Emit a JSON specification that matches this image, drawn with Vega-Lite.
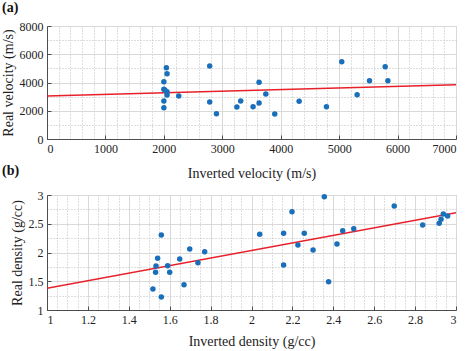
{
  "$schema": "https://vega.github.io/schema/vega-lite/v6.json",
  "padding": {"left": 0, "top": 0, "right": 2, "bottom": 0},
  "background": "white",
  "bounds": "flush",
  "spacing": 56,
  "config": {
    "view": {"stroke": "#c8c8c8", "strokeWidth": 1},
    "axis": {
      "labelFont": "Liberation Serif",
      "labelFontSize": 12,
      "labelColor": "#222222",
      "titleFont": "Liberation Serif",
      "titleFontSize": 14,
      "titleFontWeight": "normal",
      "titleColor": "#222222",
      "domainColor": "#4d4d4d",
      "tickColor": "#4d4d4d",
      "tickSize": -4,
      "labelPadding": 8,
      "gridColor": "#d9d9d9",
      "gridWidth": 1
    },
    "title": {"font": "Liberation Serif", "fontSize": 14, "fontWeight": "bold", "color": "#111111"}
  },
  "datasets": {
    "velocity": [
      {"inv": 2043, "real": 5050}, {"inv": 2055, "real": 4625}, {"inv": 2000, "real": 4060},
      {"inv": 2000, "real": 3520}, {"inv": 2020, "real": 3450}, {"inv": 2055, "real": 3350},
      {"inv": 2055, "real": 3115}, {"inv": 2000, "real": 2690}, {"inv": 2000, "real": 2215},
      {"inv": 2255, "real": 3045}, {"inv": 2785, "real": 5170}, {"inv": 2785, "real": 2620},
      {"inv": 2900, "real": 1795}, {"inv": 3250, "real": 2265}, {"inv": 3315, "real": 2690},
      {"inv": 3527, "real": 2290}, {"inv": 3630, "real": 4010}, {"inv": 3630, "real": 2550},
      {"inv": 3745, "real": 3185}, {"inv": 3898, "real": 1770}, {"inv": 4315, "real": 2665},
      {"inv": 4783, "real": 2290}, {"inv": 5045, "real": 5475}, {"inv": 5308, "real": 3140},
      {"inv": 5520, "real": 4130}, {"inv": 5788, "real": 5120}, {"inv": 5834, "real": 4130}
    ],
    "velocityFit": [{"inv": 0, "real": 3040}, {"inv": 7000, "real": 3840}],
    "density": [
      {"inv": 1.559, "real": 2.304}, {"inv": 1.541, "real": 1.899}, {"inv": 1.533, "real": 1.765},
      {"inv": 1.531, "real": 1.655}, {"inv": 1.59, "real": 1.771}, {"inv": 1.6, "real": 1.655},
      {"inv": 1.649, "real": 1.887}, {"inv": 1.698, "real": 2.061}, {"inv": 1.771, "real": 2.014},
      {"inv": 1.738, "real": 1.823}, {"inv": 1.518, "real": 1.365}, {"inv": 1.559, "real": 1.226},
      {"inv": 1.67, "real": 1.44}, {"inv": 2.04, "real": 2.316}, {"inv": 2.157, "real": 2.333},
      {"inv": 2.198, "real": 2.71}, {"inv": 2.157, "real": 1.783}, {"inv": 2.227, "real": 2.13},
      {"inv": 2.258, "real": 2.333}, {"inv": 2.301, "real": 2.043}, {"inv": 2.356, "real": 2.97},
      {"inv": 2.377, "real": 1.49}, {"inv": 2.418, "real": 2.148}, {"inv": 2.446, "real": 2.38},
      {"inv": 2.5, "real": 2.415}, {"inv": 2.698, "real": 2.81}, {"inv": 2.837, "real": 2.478},
      {"inv": 2.918, "real": 2.507}, {"inv": 2.927, "real": 2.577}, {"inv": 2.938, "real": 2.67},
      {"inv": 2.959, "real": 2.635}
    ],
    "densityFit": [{"inv": 1, "real": 1.377}, {"inv": 3, "real": 2.69}]
  },
  "vconcat": [
    {
      "width": 409,
      "height": 113,
      "title": {"text": "(a)", "anchor": "start", "frame": "group", "dx": -45, "offset": 5},
      "resolve": {"axis": {"x": "independent", "y": "independent"}},
      "layer": [
        {
          "data": {"name": "velocityFit"},
          "mark": {"type": "line", "color": "#e8202a", "strokeWidth": 1.5, "clip": true},
          "encoding": {
            "x": {"field": "inv", "type": "quantitative", "scale": {"domain": [0, 7000], "nice": false},
              "axis": {"orient": "top", "values": [200,400,600,800,1200,1400,1600,1800,2200,2400,2600,2800,3200,3400,3600,3800,4200,4400,4600,4800,5200,5400,5600,5800,6200,6400,6600,6800],
                "grid": true, "gridDash": [1, 2], "gridColor": "#bdbdbd", "labels": false, "ticks": false, "domain": false, "title": null}},
            "y": {"field": "real", "type": "quantitative", "scale": {"domain": [0, 8000], "nice": false},
              "axis": {"orient": "right", "values": [1000, 3000, 5000, 7000],
                "grid": true, "gridDash": [1, 2], "gridColor": "#bdbdbd", "labels": false, "ticks": false, "domain": false, "title": null}}
          }
        },
        {
          "data": {"name": "velocity"},
          "mark": {"type": "circle", "color": "#1a6fba", "opacity": 1, "size": 30},
          "encoding": {
            "x": {"field": "inv", "type": "quantitative",
              "axis": {"orient": "bottom", "values": [0,1000,2000,3000,4000,5000,6000,7000], "format": "d", "grid": true, "title": "Inverted velocity (m/s)", "titlePadding": 12}},
            "y": {"field": "real", "type": "quantitative",
              "axis": {"orient": "left", "values": [0,2000,4000,6000,8000], "format": "d", "grid": true, "title": "Real velocity (m/s)", "titlePadding": 4}}
          }
        }
      ]
    },
    {
      "width": 409,
      "height": 115,
      "title": {"text": "(b)", "anchor": "start", "frame": "group", "dx": -45, "offset": 11},
      "resolve": {"axis": {"x": "independent", "y": "independent"}},
      "layer": [
        {
          "data": {"name": "densityFit"},
          "mark": {"type": "line", "color": "#e8202a", "strokeWidth": 1.5, "clip": true},
          "encoding": {
            "x": {"field": "inv", "type": "quantitative", "scale": {"domain": [1, 3], "nice": false},
              "axis": {"orient": "top", "values": [1.05,1.1,1.15,1.25,1.3,1.35,1.45,1.5,1.55,1.65,1.7,1.75,1.85,1.9,1.95,2.05,2.1,2.15,2.25,2.3,2.35,2.45,2.5,2.55,2.65,2.7,2.75,2.85,2.9,2.95],
                "grid": true, "gridDash": [1, 2], "gridColor": "#bdbdbd", "labels": false, "ticks": false, "domain": false, "title": null}},
            "y": {"field": "real", "type": "quantitative", "scale": {"domain": [1, 3], "nice": false},
              "axis": {"orient": "right", "values": [1.25, 1.75, 2.25, 2.75],
                "grid": true, "gridDash": [1, 2], "gridColor": "#bdbdbd", "labels": false, "ticks": false, "domain": false, "title": null}}
          }
        },
        {
          "data": {"name": "density"},
          "mark": {"type": "circle", "color": "#1a6fba", "opacity": 1, "size": 30},
          "encoding": {
            "x": {"field": "inv", "type": "quantitative",
              "axis": {"orient": "bottom", "values": [1,1.2,1.4,1.6,1.8,2,2.2,2.4,2.6,2.8,3], "format": "~g", "grid": true, "title": "Inverted density (g/cc)", "titlePadding": 9}},
            "y": {"field": "real", "type": "quantitative",
              "axis": {"orient": "left", "values": [1,1.5,2,2.5,3], "format": "~g", "grid": true, "title": "Real density (g/cc)", "titlePadding": 4}}
          }
        }
      ]
    }
  ]
}
